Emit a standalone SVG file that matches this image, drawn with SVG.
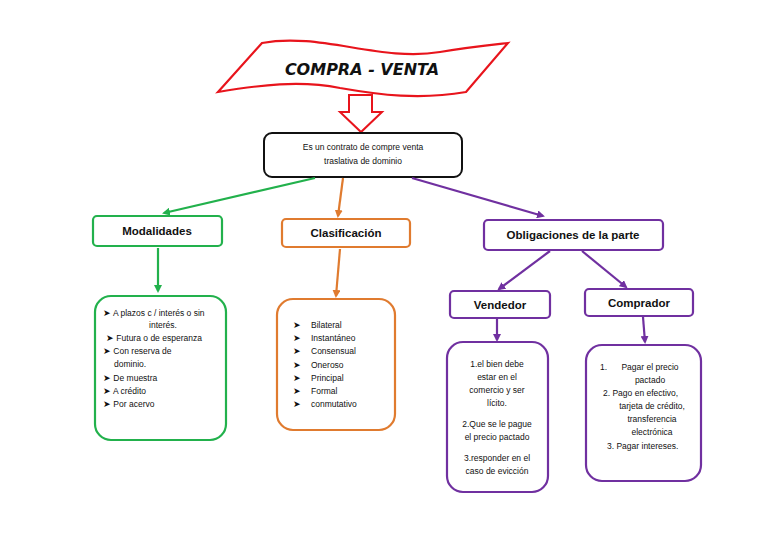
<svg xmlns="http://www.w3.org/2000/svg" width="768" height="543" viewBox="0 0 768 543">
<style>
text{font-family:"Liberation Sans",Arial,sans-serif;fill:#111}
.t{font-size:8.5px}
.h{font-size:11.5px;font-weight:bold}
.g{stroke:#22b14c}.o{stroke:#e07b2f}.p{stroke:#7030a0}
.box{fill:#fff;stroke-width:2.2}
.c{fill:none;stroke-width:2.2}
</style>
<defs>
<marker id="ag" markerWidth="8" markerHeight="8" refX="6" refY="4" orient="auto" markerUnits="userSpaceOnUse"><path d="M0,0 L8,4 L0,8 Z" fill="#22b14c"/></marker>
<marker id="ao" markerWidth="8" markerHeight="8" refX="6" refY="4" orient="auto" markerUnits="userSpaceOnUse"><path d="M0,0 L8,4 L0,8 Z" fill="#e07b2f"/></marker>
<marker id="ap" markerWidth="8" markerHeight="8" refX="6" refY="4" orient="auto" markerUnits="userSpaceOnUse"><path d="M0,0 L8,4 L0,8 Z" fill="#7030a0"/></marker>
</defs>
<rect width="768" height="543" fill="#fff"/>
<g id="title">
<path d="M218,92 L262,43 C320,32 380,62 440,52 C470,47 490,45 508,43 L466,92 C420,100 380,95 340,88 C300,80 260,85 218,92 Z" fill="#fff" stroke="#e8141c" stroke-width="2.2"/>
<text x="362" y="75" text-anchor="middle" style="font-size:16px;font-weight:bold;font-style:italic;font-family:'DejaVu Sans',sans-serif">COMPRA - VENTA</text>
<path d="M349,95 L372,95 L372,112 L382,112 L361,132 L340,112 L349,112 Z" fill="#fff" stroke="#e8141c" stroke-width="2"/>
</g>
<g id="def">
<rect x="264" y="133" width="198" height="44" rx="8" fill="#fff" stroke="#111" stroke-width="2"/>
<text class="t" x="363" y="150" text-anchor="middle">Es un contrato de compre venta</text>
<text class="t" x="363" y="164" text-anchor="middle">traslativa de dominio</text>
</g>
<g id="connectors">
<path class="c g" d="M315,178 L164,213" marker-end="url(#ag)"/>
<path class="c o" d="M343,178 L338,216" marker-end="url(#ao)"/>
<path class="c p" d="M412,178 L543,216" marker-end="url(#ap)"/>
<path class="c g" d="M158,248 L158,291" marker-end="url(#ag)"/>
<path class="c o" d="M340,249 L336,296" marker-end="url(#ao)"/>
<path class="c p" d="M550,251 L499,289" marker-end="url(#ap)"/>
<path class="c p" d="M582,251 L626,287" marker-end="url(#ap)"/>
<path class="c p" d="M497,319 L497,340" marker-end="url(#ap)"/>
<path class="c p" d="M643,317 L645,342" marker-end="url(#ap)"/>
</g>
<g id="modalidades"><rect class="box g" x="93" y="216" width="129" height="30" rx="4"/><text class="h" x="157" y="235" text-anchor="middle">Modalidades</text></g>
<g id="clasificacion"><rect class="box o" x="282" y="219" width="128" height="28" rx="4"/><text class="h" x="346" y="237" text-anchor="middle">Clasificación</text></g>
<g id="obligaciones"><rect class="box p" x="484" y="220" width="179" height="30" rx="4"/><text class="h" x="573" y="239" text-anchor="middle">Obligaciones de la parte</text></g>
<g id="vendedor"><rect class="box p" x="450" y="291" width="100" height="27" rx="4"/><text class="h" x="500" y="309" text-anchor="middle">Vendedor</text></g>
<g id="comprador"><rect class="box p" x="585" y="289" width="108" height="27" rx="4"/><text class="h" x="639" y="307" text-anchor="middle">Comprador</text></g>
<g id="lista-modalidades">
<rect class="box g" x="95" y="296" width="131" height="144" rx="16"/>
<g class="t">
<text x="103" y="316">➤  A plazos c / interés o sin</text>
<text x="163" y="328" text-anchor="middle">interés.</text>
<text x="106" y="341">➤  Futura o de esperanza</text>
<text x="103" y="354">➤  Con reserva de</text>
<text x="114" y="367">dominio.</text>
<text x="103" y="381">➤  De muestra</text>
<text x="103" y="394">➤  A crédito</text>
<text x="103" y="407">➤  Por acervo</text>
</g></g>
<g id="lista-clasificacion">
<rect class="box o" x="277" y="299" width="118" height="131" rx="16"/>
<g class="t">
<text x="293" y="328">➤</text><text x="311" y="328">Bilateral</text>
<text x="293" y="341">➤</text><text x="311" y="341">Instantáneo</text>
<text x="293" y="354">➤</text><text x="311" y="354">Consensual</text>
<text x="293" y="368">➤</text><text x="311" y="368">Oneroso</text>
<text x="293" y="381">➤</text><text x="311" y="381">Principal</text>
<text x="293" y="394">➤</text><text x="311" y="394">Formal</text>
<text x="293" y="407">➤</text><text x="311" y="407">conmutativo</text>
</g></g>
<g id="lista-vendedor">
<rect class="box p" x="447" y="342" width="101" height="150" rx="16"/>
<g class="t" text-anchor="middle">
<text x="497" y="367">1.el bien debe</text>
<text x="497" y="380">estar en el</text>
<text x="497" y="393">comercio y ser</text>
<text x="497" y="406">lícito.</text>
<text x="497" y="427">2.Que se le pague</text>
<text x="497" y="440">el precio pactado</text>
<text x="497" y="461">3.responder en el</text>
<text x="497" y="474">caso de evicción</text>
</g></g>
<g id="lista-comprador">
<rect class="box p" x="586" y="345" width="115" height="136" rx="16"/>
<g class="t">
<text x="600" y="370">1.</text><text x="650" y="370" text-anchor="middle">Pagar el precio</text>
<text x="650" y="383" text-anchor="middle">pactado</text>
<text x="603" y="396">2.  Pago en efectivo,</text>
<text x="652" y="409" text-anchor="middle">tarjeta de crédito,</text>
<text x="652" y="422" text-anchor="middle">transferencia</text>
<text x="652" y="435" text-anchor="middle">electrónica</text>
<text x="607" y="449">3.  Pagar intereses.</text>
</g></g>
</svg>
